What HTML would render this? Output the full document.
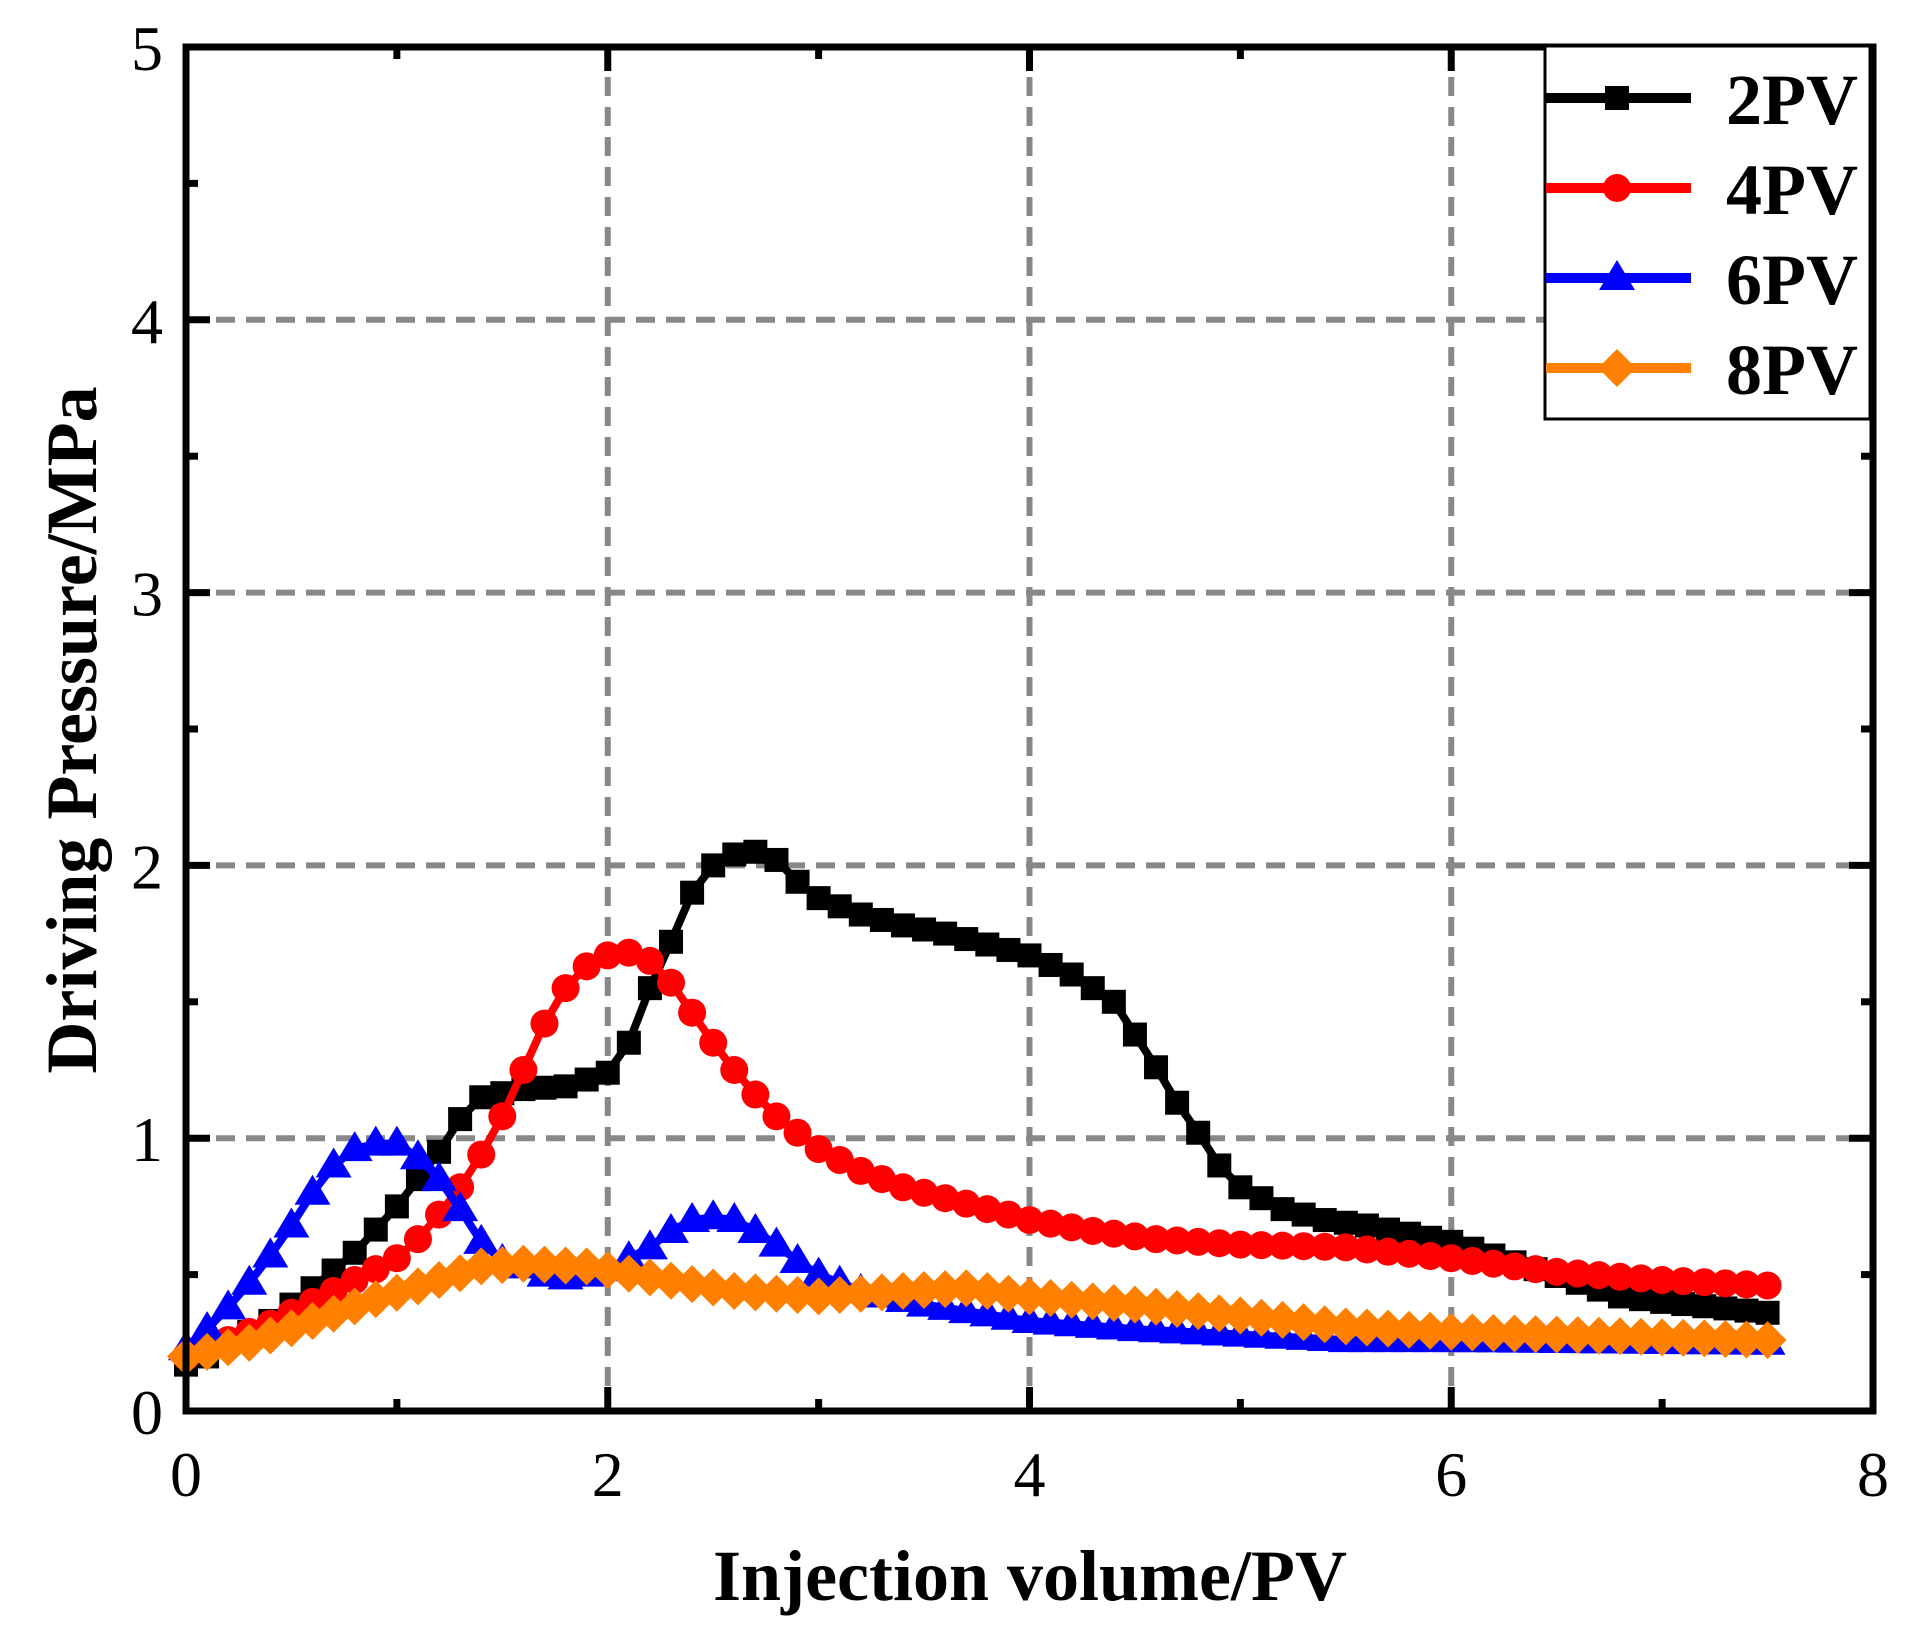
<!DOCTYPE html>
<html><head><meta charset="utf-8"><style>
html,body{margin:0;padding:0;background:#fff}
svg{display:block}
text{font-family:"Liberation Serif",serif}
</style></head><body>
<svg id="s" width="1928" height="1640" viewBox="0 0 1928 1640" xmlns="http://www.w3.org/2000/svg">
<g id="grid" stroke="#888" stroke-width="6" stroke-dasharray="19,11"></g>
<g id="series"></g>
<rect x="186" y="47" width="1687" height="1364" fill="none" stroke="#000" stroke-width="7"/>
<g id="ticks" stroke="#000" stroke-width="7"></g>
<g id="labels" font-size="64" fill="#000"></g>
<text x="1030" y="1600" font-size="72" font-weight="bold" text-anchor="middle">Injection volume/PV</text>
<text transform="translate(96,730) rotate(-90)" font-size="72" font-weight="bold" text-anchor="middle">Driving Pressure/MPa</text>
<rect x="1545" y="46" width="325" height="373" fill="#fff" stroke="#000" stroke-width="3"/>
<g id="legend"></g>
</svg>
<script>
const X=v=>186+v*210.875, Y=v=>1411-v*272.8;
const ns="http://www.w3.org/2000/svg";
function el(p,t,a){const e=document.createElementNS(ns,t);for(const k in a)e.setAttribute(k,a[k]);p.appendChild(e);return e;}
const G=document.getElementById('grid'),T=document.getElementById('ticks'),L=document.getElementById('labels'),S=document.getElementById('series'),LG=document.getElementById('legend');
for(const v of [2,4,6]) el(G,'line',{x1:X(v),x2:X(v),y1:47,y2:1411});
for(const v of [1,2,3,4]) el(G,'line',{x1:186,x2:1873,y1:Y(v),y2:Y(v)});
for(let v=1;v<8;v++){const len=v%2?12:24;el(T,'line',{x1:X(v),x2:X(v),y1:1411,y2:1411-len});el(T,'line',{x1:X(v),x2:X(v),y1:47,y2:47+len});}
for(let v=0.5;v<5;v+=0.5){const len=(v%1)?12:24;el(T,'line',{x1:186,x2:186+len,y1:Y(v),y2:Y(v)});el(T,'line',{x1:1873,x2:1873-len,y1:Y(v),y2:Y(v)});}
for(const v of [0,2,4,6,8]){const t=el(L,'text',{x:X(v),y:1496,'text-anchor':'middle'});t.textContent=v;}
for(const v of [0,1,2,3,4,5]){const t=el(L,'text',{x:163,y:Y(v)+23,'text-anchor':'end'});t.textContent=v;}
const data={
black:[[0,0.17],[0.1,0.2],[0.2,0.25],[0.4,0.33],[0.6,0.45],[0.8,0.58],[1.0,0.75],[1.2,0.95],[1.3,1.07],[1.4,1.15],[1.6,1.18],[1.8,1.19],[2.0,1.24],[2.1,1.35],[2.2,1.55],[2.3,1.72],[2.4,1.9],[2.5,2.0],[2.6,2.04],[2.7,2.05],[2.8,2.02],[2.9,1.94],[3.0,1.88],[3.2,1.82],[3.4,1.78],[3.6,1.75],[3.8,1.71],[4.0,1.67],[4.2,1.6],[4.4,1.5],[4.5,1.38],[4.6,1.26],[4.7,1.13],[4.8,1.02],[4.9,0.9],[5.0,0.82],[5.2,0.74],[5.4,0.7],[5.6,0.68],[5.8,0.65],[6.0,0.62],[6.2,0.57],[6.4,0.52],[6.6,0.47],[6.8,0.42],[7.0,0.4],[7.5,0.36]],
red:[[0,0.2],[0.2,0.26],[0.4,0.32],[0.6,0.4],[0.8,0.48],[1.0,0.56],[1.1,0.63],[1.2,0.72],[1.3,0.82],[1.4,0.94],[1.5,1.08],[1.6,1.25],[1.7,1.42],[1.8,1.55],[1.9,1.63],[2.0,1.67],[2.1,1.68],[2.2,1.65],[2.3,1.57],[2.4,1.46],[2.5,1.35],[2.6,1.25],[2.7,1.16],[2.8,1.08],[2.9,1.02],[3.0,0.96],[3.2,0.88],[3.4,0.82],[3.6,0.78],[3.8,0.74],[4.0,0.7],[4.3,0.66],[4.6,0.63],[5.0,0.61],[5.5,0.6],[6.0,0.56],[6.5,0.51],[7.0,0.48],[7.5,0.46]],
blue:[[0,0.23],[0.1,0.3],[0.2,0.38],[0.3,0.47],[0.4,0.57],[0.5,0.68],[0.6,0.8],[0.7,0.9],[0.8,0.96],[0.9,0.98],[1.0,0.98],[1.1,0.93],[1.2,0.85],[1.3,0.74],[1.4,0.62],[1.5,0.55],[1.6,0.53],[1.7,0.5],[1.8,0.49],[1.9,0.5],[2.0,0.52],[2.1,0.56],[2.2,0.6],[2.3,0.66],[2.4,0.7],[2.5,0.71],[2.6,0.7],[2.7,0.66],[2.8,0.61],[2.9,0.55],[3.0,0.5],[3.2,0.44],[3.5,0.39],[4.0,0.33],[4.5,0.3],[5.0,0.28],[5.5,0.26],[6.0,0.26],[7.5,0.25]],
orange:[[0,0.2],[0.3,0.25],[0.6,0.33],[0.9,0.41],[1.2,0.48],[1.4,0.53],[1.6,0.54],[1.9,0.53],[2.2,0.49],[2.6,0.44],[3.0,0.42],[3.4,0.44],[3.7,0.45],[4.0,0.42],[4.5,0.39],[5.0,0.35],[5.5,0.31],[6.0,0.29],[7.5,0.26]]};
const cols={black:'#000',red:'#ff0000',blue:'#0000ff',orange:'#ff8000'};
function interp(d,x){for(let i=1;i<d.length;i++){if(x<=d[i][0]+1e-9){const a=d[i-1],b=d[i];return a[1]+(b[1]-a[1])*(x-a[0])/(b[0]-a[0]);}}return d[d.length-1][1];}
function marker(p,k,cx,cy,c){
 if(k=='black') el(p,'rect',{x:cx-12,y:cy-12,width:24,height:24,fill:c});
 else if(k=='red') el(p,'circle',{cx:cx,cy:cy,r:14,fill:c});
 else if(k=='blue') el(p,'polygon',{points:`${cx},${cy-18} ${cx+18},${cy+12} ${cx-18},${cy+12}`,fill:c});
 else el(p,'polygon',{points:`${cx},${cy-19} ${cx+19},${cy} ${cx},${cy+19} ${cx-19},${cy}`,fill:c});
}
for(const k of ['black','red','blue','orange']){
 const d=data[k],c=cols[k];const pts=[];
 for(let i=0;i<=75;i++){const x=i/10;pts.push([X(x),Y(interp(d,x))]);}
 el(S,'polyline',{points:pts.map(p=>p.join(',')).join(' '),fill:'none',stroke:c,'stroke-width':8,'stroke-linejoin':'round'});
 for(const p of pts) marker(S,k,p[0],p[1],c);
}
const ly=[98,188,278,368],names=['2PV','4PV','6PV','8PV'];
['black','red','blue','orange'].forEach((k,i)=>{
 el(LG,'line',{x1:1546,x2:1691,y1:ly[i],y2:ly[i],stroke:cols[k],'stroke-width':10});
 marker(LG,k,1617,ly[i],cols[k]);
 const t=el(LG,'text',{x:1726,y:ly[i]+26,'font-size':72,'font-weight':'bold'});t.textContent=names[i];
});
</script>
</body></html>
